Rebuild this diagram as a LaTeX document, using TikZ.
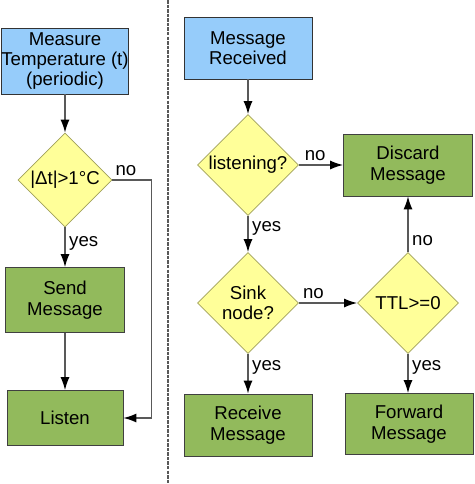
\documentclass[tikz,border=0pt]{standalone}
\usepackage{fontspec}
\setmainfont{Liberation Sans}
\usetikzlibrary{shapes.geometric}
\usetikzlibrary{arrows.meta}

\definecolor{startblue}{RGB}{150,204,250}
\definecolor{stepgreen}{RGB}{146,186,92}
\definecolor{testyellow}{RGB}{255,255,153}
\definecolor{testedge}{RGB}{160,160,90}

\tikzset{
  startbox/.style={rectangle,draw=black!80,fill=startblue,align=center,inner sep=0pt},
  stepbox/.style={rectangle,draw=black!75,fill=stepgreen,align=center,inner sep=0pt},
  testbox/.style={diamond,draw=testedge,fill=testyellow,align=center,inner sep=0pt,aspect=1},
  arr/.style={draw=black!65,line width=0.8pt,-{Latex[length=0.26cm,width=0.18cm,color=black]}},
  lbl/.style={inner sep=2pt}
}

\begin{document}
\begin{tikzpicture}[x=0.02cm,y=-0.02cm,font=\fontsize{10.6}{11.6}\selectfont]
\useasboundingbox (0,0) rectangle (474,484);

% left side
\node[startbox,minimum width=2.52cm,minimum height=1.32cm] (measure) at (65,61) {Measure\\Temperature (t)\\(periodic)};
\node[testbox,minimum size=1.88cm] (delta) at (65,180) {|Δt|>1°C};
\node[stepbox,minimum width=2.38cm,minimum height=1.30cm] (send) at (65,300) {Send\\Message};
\node[stepbox,minimum width=2.32cm,minimum height=1.10cm] (listen) at (65,418) {Listen};

\draw[arr] (measure) -- (delta);
\draw[arr] (delta) -- node[lbl,pos=0.4,anchor=west] {yes} (send);
\draw[arr] (send) -- (listen);
\draw[arr] (delta.east) -- ++(39,0) node[lbl,pos=0.35,anchor=south] {no} |- (listen.east);

% separator
\draw[black!65,line width=1.2pt,dash pattern=on 2pt off 0.6pt] (168,0) -- (168,484);

% right side
\node[startbox,minimum width=2.56cm,minimum height=1.24cm] (received) at (248,48) {Message\\Received};
\node[testbox,minimum size=2.02cm] (listening) at (248,165) {listening?};
\node[stepbox,minimum width=2.58cm,minimum height=1.24cm] (discard) at (408,165) {Discard\\Message};
\node[testbox,minimum size=2.02cm] (sink) at (248,303) {Sink\\node?};
\node[testbox,minimum size=2.02cm] (ttl) at (408,303) {TTL>=0};
\node[stepbox,minimum width=2.56cm,minimum height=1.24cm] (receive) at (248,425) {Receive\\Message};
\node[stepbox,minimum width=2.56cm,minimum height=1.22cm] (forward) at (409,424) {Forward\\Message};

\draw[arr] (received) -- (listening);
\draw[arr] (listening) -- node[lbl,pos=0.37,anchor=south] {no} (discard);
\draw[arr] (listening) -- node[lbl,pos=0.35,anchor=west] {yes} (sink);
\draw[arr] (sink) -- node[lbl,pos=0.25,anchor=south] {no} (ttl);
\draw[arr] (ttl) -- node[lbl,pos=0.2,anchor=west] {no} (discard);
\draw[arr] (sink) -- node[lbl,pos=0.33,anchor=west] {yes} (receive);
\draw[arr] (ttl.south) -- node[lbl,pos=0.35,anchor=west] {yes} (ttl.south |- forward.north);

\end{tikzpicture}
\end{document}
